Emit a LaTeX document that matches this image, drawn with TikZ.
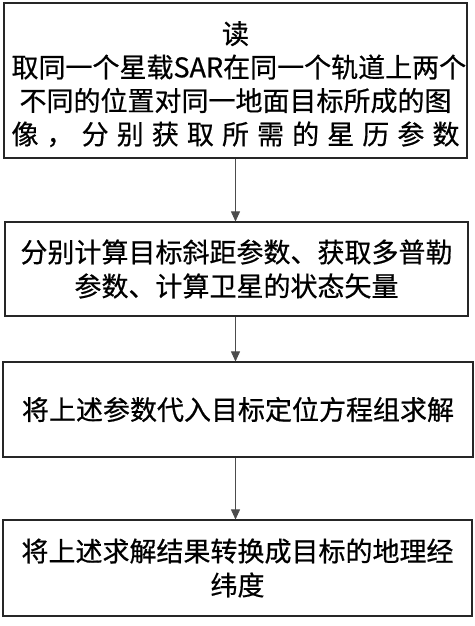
\documentclass[tikz,border=0pt]{standalone}
\usepackage{fontspec}
\setmainfont{Noto Sans CJK SC}
\newfontfamily\cjk{Noto Sans CJK SC}[FakeBold=0.6]
\usetikzlibrary{arrows.meta}
\begin{document}
\begin{tikzpicture}[x=1pt,y=-1pt,
  box/.style={draw=black!85,line width=1.1pt,inner sep=0pt,align=center},
  bigtext/.style={font=\cjk\fontsize{27}{33.5}\selectfont},
  midtext/.style={font=\cjk\fontsize{27}{34}\selectfont},
  arr/.style={draw=black!70,line width=0.6pt,-{Triangle[length=10pt,width=9pt]}}]
\useasboundingbox (0,0) rectangle (474,626);
\node[box,bigtext,minimum width=463pt,minimum height=155pt] (b1) at (235.5,80.5)
  {\rule{0pt}{30pt}读\\\makebox[448pt][s]{取同一个星载SAR在同一个轨道上两个}\\不同的位置对同一地面目标所成的图\\
   \makebox[448pt]{像\hfill，\hfill 分\hfill 别\hfill 获\hfill 取\hfill 所\hfill 需\hfill 的\hfill 星\hfill 历\hfill 参\hfill 数}};
\node[box,midtext,minimum width=463pt,minimum height=94pt] (b2) at (236.5,269)
  {分别计算目标斜距参数、获取多普勒\\参数、计算卫星的状态矢量};
\node[box,midtext,minimum width=470pt,minimum height=95pt] (b3) at (238,409.5)
  {将上述参数代入目标定位方程组求解};
\node[box,midtext,minimum width=469pt,minimum height=96pt] (b4) at (237.5,568)
  {将上述求解结果转换成目标的地理经\\纬度};
\draw[arr] (b1.south) -- (b1.south |- b2.north);
\draw[arr] (b2.south -| b1.south) -- (b1.south |- b3.north);
\draw[arr] (b3.south -| b1.south) -- (b1.south |- b4.north);
\end{tikzpicture}
\end{document}
